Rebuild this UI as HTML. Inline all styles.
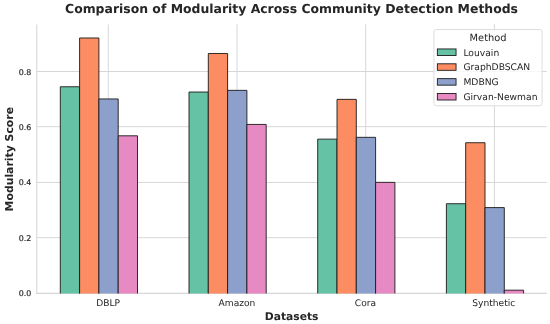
<!DOCTYPE html>
<html lang="en">
<head>
<meta charset="utf-8">
<title>Comparison of Modularity Across Community Detection Methods</title>
<style>
html,body{margin:0;padding:0;background:#fff;}
body{width:550px;height:324px;overflow:hidden;}
svg{display:block;}
text{text-rendering:geometricPrecision;font-family:"DejaVu Sans","Liberation Sans",sans-serif;fill:#262626;}
</style>
</head>
<body>
<svg width="550" height="324" viewBox="0 0 550 324">
<rect x="0" y="0" width="550" height="324" fill="#ffffff"/>
<g stroke="#d7d7d7" stroke-width="1" fill="none">
<line x1="108.30" y1="24.40" x2="108.30" y2="293.40"/>
<line x1="237.00" y1="24.40" x2="237.00" y2="293.40"/>
<line x1="365.70" y1="24.40" x2="365.70" y2="293.40"/>
<line x1="494.40" y1="24.40" x2="494.40" y2="293.40"/>
<line x1="36.75" y1="237.70" x2="546.80" y2="237.70"/>
<line x1="36.75" y1="182.45" x2="546.80" y2="182.45"/>
<line x1="36.75" y1="126.66" x2="546.80" y2="126.66"/>
<line x1="36.75" y1="71.50" x2="546.80" y2="71.50"/>
</g>
<g stroke="#d7d7d7" stroke-width="1.1" fill="none">
<line x1="36.75" y1="24.40" x2="36.75" y2="293.90"/>
<line x1="36.25" y1="293.40" x2="546.80" y2="293.40"/>
</g>
<g stroke="#1a1a1a" stroke-width="0.9">
<path d="M60.30 293.45V86.75H79.60V293.45" fill="#66c2a5"/>
<path d="M79.60 293.45V37.97H98.90V293.45" fill="#fc8d62"/>
<path d="M98.90 293.45V98.95H118.20V293.45" fill="#8da0cb"/>
<path d="M118.20 293.45V135.81H137.50V293.45" fill="#e78ac3"/>
<path d="M189.00 293.45V92.02H208.30V293.45" fill="#66c2a5"/>
<path d="M208.30 293.45V53.49H227.60V293.45" fill="#fc8d62"/>
<path d="M227.60 293.45V90.35H246.90V293.45" fill="#8da0cb"/>
<path d="M246.90 293.45V124.44H266.20V293.45" fill="#e78ac3"/>
<path d="M317.70 293.45V139.13H337.00V293.45" fill="#66c2a5"/>
<path d="M337.00 293.45V99.36H356.30V293.45" fill="#fc8d62"/>
<path d="M356.30 293.45V137.33H375.60V293.45" fill="#8da0cb"/>
<path d="M375.60 293.45V182.37H394.90V293.45" fill="#e78ac3"/>
<path d="M446.40 293.45V203.71H465.70V293.45" fill="#66c2a5"/>
<path d="M465.70 293.45V142.73H485.00V293.45" fill="#fc8d62"/>
<path d="M485.00 293.45V207.59H504.30V293.45" fill="#8da0cb"/>
<path d="M504.30 293.45V290.18H523.60V293.45" fill="#e78ac3"/>
</g>
<g font-size="7.9" text-anchor="end" stroke="#262626" stroke-width="0.2">
<text x="31.3" y="296.20">0.0</text>
<text x="31.3" y="241.00">0.2</text>
<text x="31.3" y="184.85">0.4</text>
<text x="31.3" y="129.80">0.6</text>
<text x="31.3" y="74.50">0.8</text>
</g>
<g font-size="9.12" text-anchor="middle">
<text x="108.20" y="305.8">DBLP</text>
<text x="237.00" y="305.8">Amazon</text>
<text x="365.40" y="305.8">Cora</text>
<text x="493.80" y="305.8">Synthetic</text>
</g>
<text x="291.7" y="319.9" font-size="10.72" font-weight="bold" text-anchor="middle">Datasets</text>
<text transform="translate(13.0,159.2) rotate(-90)" font-size="10.87" font-weight="bold" text-anchor="middle">Modularity Score</text>
<text x="291.5" y="12.8" font-size="12.43" font-weight="bold" text-anchor="middle">Comparison of Modularity Across Community Detection Methods</text>
<rect x="433.9" y="29.55" width="108.2" height="76.3" rx="2.4" ry="2.4" fill="#ffffff" fill-opacity="0.8" stroke="#d9d9d9" stroke-width="0.9"/>
<text x="488.05" y="40.75" font-size="9.85" text-anchor="middle">Method</text>
<rect x="437.35" y="48.95" width="18.7" height="6.5" fill="#66c2a5" stroke="#1a1a1a" stroke-width="0.9"/>
<text x="463.4" y="55.85" font-size="9.2">Louvain</text>
<rect x="437.35" y="63.80" width="18.7" height="6.5" fill="#fc8d62" stroke="#1a1a1a" stroke-width="0.9"/>
<text x="463.4" y="69.85" font-size="9.2">GraphDBSCAN</text>
<rect x="437.35" y="78.65" width="18.7" height="6.5" fill="#8da0cb" stroke="#1a1a1a" stroke-width="0.9"/>
<text x="463.4" y="84.70" font-size="9.2">MDBNG</text>
<rect x="437.35" y="93.50" width="18.7" height="6.5" fill="#e78ac3" stroke="#1a1a1a" stroke-width="0.9"/>
<text x="463.4" y="99.55" font-size="9.2">Girvan-Newman</text>
</svg>
</body>
</html>
